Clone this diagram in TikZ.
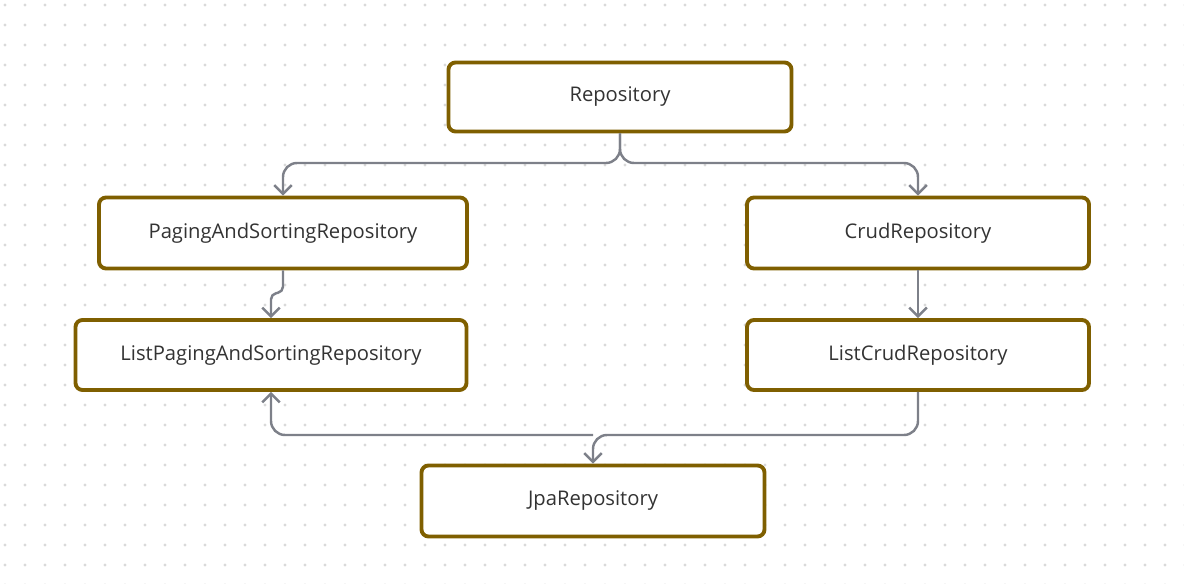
\documentclass[tikz,border=0pt]{standalone}
\usepackage{fontspec}
\setmainfont{Open Sans}
\usetikzlibrary{arrows.meta}
\definecolor{boxline}{HTML}{7F5F00}
\definecolor{wire}{HTML}{7D8089}
\definecolor{dotc}{HTML}{D9D9D9}
\tikzset{
    repobox/.style={draw=boxline, line width=2.2pt, rounded corners=4pt, fill=white,
        font=\fontsize{11.5}{13}\selectfont, text=black!80, inner sep=0pt},
    link/.style={draw=wire, line width=1.4pt, rounded corners=8pt, -{Straight Barb[length=5pt,width=10pt]}}
}
\begin{document}
\begin{tikzpicture}[x=0.02cm, y=-0.02cm]

            % the frame
            \useasboundingbox (0, 0) rectangle (1184, 584);

            % the dots
            \foreach \i in {0,...,59} {
                \foreach \j in {0,...,29} {
                    \fill[dotc] ({\i*20+5}, {\j*20+5}) circle (0.9pt);
                }
            }

            % the boxes
            \node[repobox, minimum width=343*0.02cm, minimum height=69*0.02cm] (repo) at (620, 97) {Repository};
            \node[repobox, minimum width=368*0.02cm, minimum height=71*0.02cm] (paging) at (283, 233) {PagingAndSortingRepository};
            \node[repobox, minimum width=342*0.02cm, minimum height=71*0.02cm] (crud) at (918, 233) {CrudRepository};
            \node[repobox, minimum width=391*0.02cm, minimum height=70*0.02cm] (listpaging) at (271, 355) {ListPagingAndSortingRepository};
            \node[repobox, minimum width=342*0.02cm, minimum height=70*0.02cm] (listcrud) at (918, 355) {ListCrudRepository};
            \node[repobox, minimum width=343*0.02cm, minimum height=71*0.02cm] (jpa) at (593, 501) {JpaRepository};

            % the links
            \coordinate (split) at (620, 163);
            \coordinate (join) at (593, 435);
            \draw[link] (repo.south) -- (split) -| (paging.north);
            \draw[link] (repo.south) -- (split) -| (crud.north);
            \draw[link, rounded corners=3pt] (paging.south) -- (283, 292) -- (271, 294) -- (listpaging.north);
            \draw[link] (crud.south) -- (listcrud.north);
            \draw[link] (listcrud.south) |- (join) -- (jpa.north);
            \draw[link] (join) -| (listpaging.south);

        \end{tikzpicture}
\end{document}
